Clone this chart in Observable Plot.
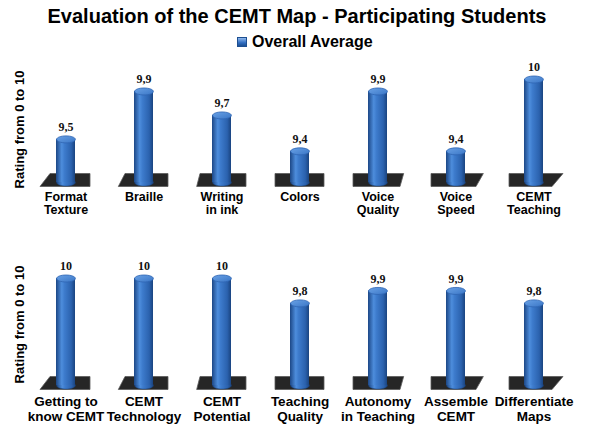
<!DOCTYPE html>
<html><head><meta charset="utf-8">
<script src="https://cdn.jsdelivr.net/npm/d3@7"></script>
<script src="https://cdn.jsdelivr.net/npm/@observablehq/plot@0.6"></script>
<style>
body{margin:0;background:#fff;font-family:"Liberation Sans",Arial,sans-serif;}
#wrap{position:relative;width:594px;height:431px;overflow:hidden;background:#fff}
#title{position:absolute;left:0;top:4px;width:594px;text-align:center;font-weight:bold;font-size:20px;line-height:25px;color:#000}
#legend{position:absolute;left:237px;top:32px;height:20px;display:flex;align-items:center;font-weight:bold;font-size:16px;color:#000}
#legend .sw{width:10px;height:10px;margin-right:5px;background:linear-gradient(#8fb8ec,#2f6cc0 60%,#1d4f91);border:1px solid #1d4f91;box-sizing:border-box}
#top{position:absolute;left:0;top:56px}
#bot{position:absolute;left:0;top:231px}
</style></head>
<body>
<svg width="0" height="0" style="position:absolute">
<defs>
<linearGradient id="cylBody" x1="0" x2="1" y1="0" y2="0">
<stop offset="0" stop-color="#1c4786"/>
<stop offset="0.3" stop-color="#4d8ddc"/>
<stop offset="0.45" stop-color="#3d7bcc"/>
<stop offset="0.8" stop-color="#2b62ae"/>
<stop offset="1" stop-color="#1a4480"/>
</linearGradient>
<linearGradient id="cylTop" x1="0" x2="1" y1="0" y2="1">
<stop offset="0" stop-color="#6aa2e6"/>
<stop offset="1" stop-color="#3a76c6"/>
</linearGradient>
</defs>
</svg>
<div id="wrap">
<div id="title"></div>
<div id="legend"><div class="sw"></div><span id="legtext"></span></div>
<div id="top"></div>
<div id="bot"></div>
</div>
<script>
const chartTitle = "Evaluation of the CEMT Map - Participating Students";
const seriesName = "Overall Average";
const yAxisLabel = "Rating from 0 to 10";
const topCategories = ["Format\nTexture","Braille","Writing\nin ink","Colors","Voice\nQuality","Voice\nSpeed","CEMT\nTeaching"];
const topValues = [9.5, 9.9, 9.7, 9.4, 9.9, 9.4, 10];
const bottomCategories = ["Getting to\nknow CEMT","CEMT\nTechnology","CEMT\nPotential","Teaching\nQuality","Autonomy\nin Teaching","Assemble\nCEMT","Differentiate\nMaps"];
const bottomValues = [10, 10, 10, 9.8, 9.9, 9.9, 9.8];
const axisBase = 9.14;
const axisMax = 10;

document.getElementById("title").textContent = chartTitle;
document.getElementById("legtext").textContent = seriesName;

const fmt = v => String(v).replace(".", ",");

function ellipse(rx, ry) {
  return {draw(ctx) {
    const k = 0.5523;
    ctx.moveTo(-rx, 0);
    ctx.bezierCurveTo(-rx, -ry * k, -rx * k, -ry, 0, -ry);
    ctx.bezierCurveTo(rx * k, -ry, rx, -ry * k, rx, 0);
    ctx.bezierCurveTo(rx, ry * k, rx * k, ry, 0, ry);
    ctx.bezierCurveTo(-rx * k, ry, -rx, ry * k, -rx, 0);
    ctx.closePath();
  }};
}
function platform(i, n) {
  const d = (i - (n - 1) / 2) / ((n - 1) / 2);
  const a = Math.max(0, -d), b = Math.max(0, d);
  const tl = -25 + 9 * a, bl = -25 - 1 * a, tr = 24 + 5 * b, br = 24 - 6 * b;
  return {draw(ctx) {
    ctx.moveTo(tl, -9);
    ctx.lineTo(tr, -9);
    ctx.lineTo(br, 4);
    ctx.lineTo(bl, 4);
    ctx.closePath();
  }};
}

function panel(cats, vals, o) {
  const data = cats.map((c, i) => ({cat: c, value: vals[i], i, label: fmt(vals[i])}));
  const rx = 9.4;
  return Plot.plot({
    width: 594, height: o.height,
    marginLeft: 40, marginRight: 35, marginTop: o.mt, marginBottom: o.mb,
    style: {fontFamily: "'Liberation Sans', Arial, sans-serif", fontWeight: "bold", color: "#000", background: "transparent", overflow: "visible"},
    x: {domain: cats, paddingInner: 0.76, paddingOuter: 0.186, align: 0.5, label: null},
    y: {domain: [axisBase, axisMax], axis: null},
    marks: [
      ...data.map(d => Plot.dot([d], {x: "cat", y: () => axisBase, symbol: platform(d.i, cats.length), fill: "#262626", stroke: "#5a5a5a", strokeWidth: 0.8})),
      Plot.dot(data, {x: "cat", y: () => axisBase, symbol: ellipse(rx, 3.5), fill: "url(#cylBody)", stroke: "#1a4480", strokeWidth: 0.5}),
      Plot.barY(data, {x: "cat", y1: () => axisBase, y2: "value", fill: "url(#cylBody)"}),
      Plot.dot(data, {x: "cat", y: "value", symbol: ellipse(rx, 3.5), fill: "url(#cylTop)", stroke: "#2e65b2", strokeWidth: 0.8}),
      Plot.text(data, {x: "cat", y: "value", text: "label", dy: -12, fontSize: 12, fontFamily: "'Liberation Serif', serif", fill: "#111"}),
      Plot.axisX({tickSize: 0, tickPadding: 10, fontSize: o.fs, lineHeight: o.lh, label: null, fill: "#000"}),
      Plot.text([yAxisLabel], {frameAnchor: "left", textAnchor: "middle", rotate: -90, dx: -21, dy: o.ldy, fontSize: 13, fill: "#000"})
    ]
  });
}

document.getElementById("top").appendChild(panel(topCategories, topValues, {height: 175, mt: 23, mb: 49, fs: 12.5, lh: 1.0, ldy: -1.5}));
document.getElementById("bot").appendChild(panel(bottomCategories, bottomValues, {height: 200, mt: 47, mb: 46, fs: 13.5, lh: 1.1, ldy: -7.5}));
</script>
</body></html>
